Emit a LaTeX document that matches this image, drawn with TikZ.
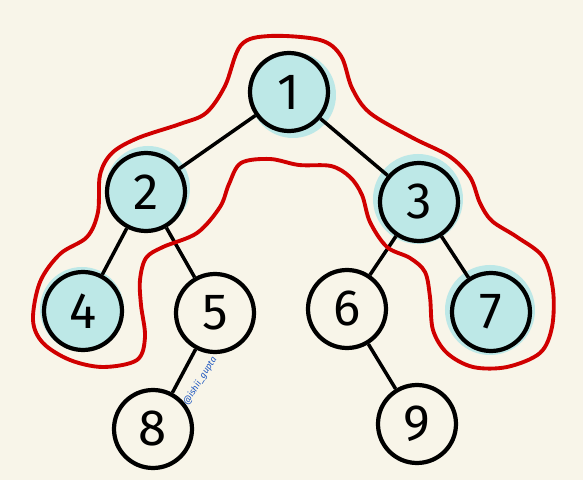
\documentclass[tikz,border=0pt]{standalone}
\usepackage{fontspec}
\setmainfont{Fira Sans}
\usepackage{xcolor}
\usepackage{tikz}
\usetikzlibrary{calc}
\definecolor{bgCream}{HTML}{F8F5E9}
\definecolor{hlTeal}{HTML}{BDE8E7}
\definecolor{penRed}{HTML}{D00000}
\definecolor{penBlue}{HTML}{2058C0}
\tikzstyle{tsDigit} = [ 
    text=black, 
    font=\fontsize{29}{29}\selectfont
]
\tikzstyle{tsCircle} = [ 
    circle,
    tsDigit,
    draw=black,
    line width=2.4pt,
    minimum size=1.56cm,
    inner sep=0pt]
\tikzstyle{tsEdge} = [ 
    draw=black,
    line width=2pt]
\tikzstyle{tsMarker} = [ 
    fill=hlTeal]
\tikzstyle{tsBoundary} = [ 
    draw=penRed,
    line width=2.2pt,
    line join=round]

\begin{document}
\begin{tikzpicture}[x=0.02cm, y=-0.02cm]

    \fill[bgCream] (0,0) rectangle (583,480);

    % highlighter blobs
    \fill[tsMarker] (293,95) circle (43);
    \fill[tsMarker] (148,188) circle (42);
    \fill[tsMarker] (418,199) circle (45);
    \fill[tsMarker] (82,309) circle (42);
    \fill[tsMarker] (490,310) circle (45);

    \node[tsCircle] (one)   at (289,92)  {1};
    \node[tsCircle] (two)   at (146,192) {2};
    \node[tsCircle] (three) at (419,202) {3};
    \node[tsCircle] (four)  at (83,311)  {4};
    \node[tsCircle] (five)  at (215,313) {5};
    \node[tsCircle] (six)   at (347,309) {6};
    \node[tsCircle] (seven) at (491,312) {7};
    \node[tsCircle] (eight) at (153,429) {8};
    \node[tsCircle] (nine)  at (417,424) {9};

    \draw[tsEdge] (one) -- (two);
    \draw[tsEdge] (one) -- (three);
    \draw[tsEdge] (two) -- (four);
    \draw[tsEdge] (two) -- (five);
    \draw[tsEdge] (three) -- (six);
    \draw[tsEdge] (three) -- (seven);
    \draw[tsEdge] (five) -- (eight);
    \draw[tsEdge] (six) -- (nine);

    \node[text=penBlue, font=\fontsize{5.2}{5.2}\selectfont\itshape, rotate=58,
          inner sep=0pt] (sign) at (200,381) {@ishii\_gupta};

    % boundary traversal
    \draw[tsBoundary] plot[smooth cycle, tension=0.55] coordinates {
        (270,36) (320,40) (341,56) (352,88) (370,113) (413,138) (449,156)
        (470,177) (480,203) (492,221) (517,237) (543,257) (553,290)
        (552,327) (540,353) (507,367) (473,367) (447,353) (433,330)
        (430,297) (425,272) (410,258) (387,247) (370,222) (362,195)
        (350,177) (331,166) (299,165) (270,159) (241,163) (229,184)
        (220,207) (197,233) (163,247) (146,258) (140,280) (141,305)
        (145,337) (137,360) (103,367) (70,360) (43,343) (33,320)
        (40,282) (60,254) (87,237) (98,212) (100,175) (112,153)
        (138,138) (180,124) (206,113) (225,86) (241,45)
    };

\end{tikzpicture}
\end{document}
